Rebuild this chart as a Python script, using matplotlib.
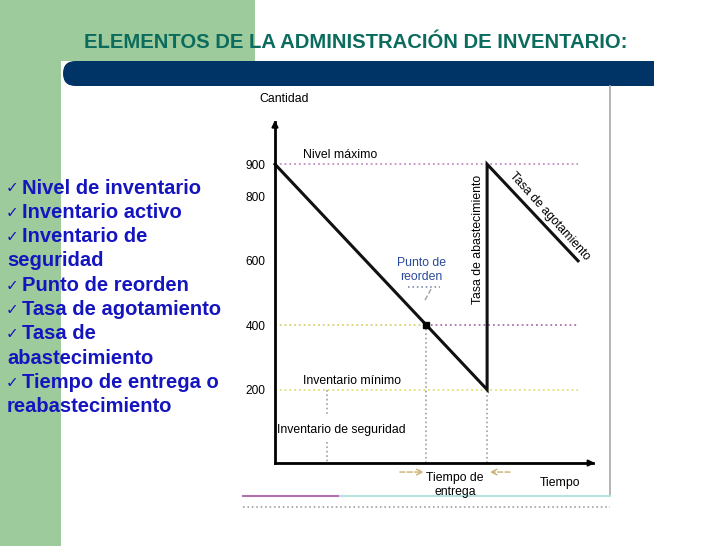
import matplotlib
matplotlib.use("Agg")
import matplotlib.pyplot as plt
from matplotlib.patches import Rectangle, FancyBboxPatch

# datos del grafico
t_nivel = [0, 7, 7, 10]
q_nivel = [900, 200, 900, 600]
y_ticks = [200, 400, 600, 800, 900]
nivel_maximo = 900
punto_reorden = 400
inv_minimo = 200
t_reorden = 5
t_llegada = 7
t_seguridad = 1.72
t_fin_lineas = 10

titulo = "ELEMENTOS DE LA ADMINISTRACIÓN DE INVENTARIO:"
items = [
    (True, "Nivel de inventario"),
    (True, "Inventario activo"),
    (True, "Inventario de"),
    (False, "seguridad"),
    (True, "Punto de reorden"),
    (True, "Tasa de agotamiento"),
    (True, "Tasa de"),
    (False, "abastecimiento"),
    (True, "Tiempo de entrega o"),
    (False, "reabastecimiento"),
]

plt.rcParams['font.family'] = ['Liberation Sans', 'DejaVu Sans']

W, H = 728, 546
fig = plt.figure(figsize=(W / 100, H / 100), dpi=100)

# fondo de la diapositiva en pixeles
bg = fig.add_axes([0, 0, 1, 1])
bg.set_xlim(0, W)
bg.set_ylim(H, 0)
bg.axis('off')

verde = '#9dcb9b'
bg.add_patch(Rectangle((0, 0), 255, 61, color=verde, lw=0))
bg.add_patch(Rectangle((0, 0), 61, H, color=verde, lw=0))
azul = '#003366'
bg.add_patch(FancyBboxPatch((63, 61), 140, 25, boxstyle="round,pad=0,rounding_size=12.5",
                            color=azul, lw=0))
bg.add_patch(Rectangle((150, 61), 504, 25, color=azul, lw=0))

bg.text(356, 42, titulo, ha='center', va='center', fontsize=14.6, fontweight='bold',
        color='#0b6b5d')

y0 = 188
azul_lista = '#1515c0'
for i, (check, txt) in enumerate(items):
    y = y0 + i * 24.3
    if check:
        bg.text(6, y, "\u2713", ha='left', va='center', fontsize=11,
                color=azul_lista, family='DejaVu Sans')
        bg.text(22, y, txt, ha='left', va='center', fontsize=14.5, fontweight='bold',
                color=azul_lista)
    else:
        bg.text(7, y, txt, ha='left', va='center', fontsize=14.5, fontweight='bold',
                color=azul_lista)

# marco de la imagen
bg.plot([610, 610], [86, 496], color='#a8a8a8', lw=1.2)
bg.plot([243, 340], [496, 496], color='#b070b0', lw=1.5)
bg.plot([340, 610], [496, 496], color='#b8e2e2', lw=1.5)
bg.plot([243, 610], [507, 507], color='#a0a0a0', lw=1.2, ls=':')

# grafico de inventario
ax = fig.add_axes([0.3361, 0.080, 0.4995, 0.7667])
ax.set_xlim(-1, 11)
ax.set_ylim(-150, 1150)
ax.patch.set_alpha(0)
for s in ['top', 'right']:
    ax.spines[s].set_visible(False)
ax.spines['left'].set_position(('data', 0))
ax.spines['left'].set_bounds(-28, 1030)
ax.spines['left'].set_linewidth(2)
ax.spines['bottom'].set_position(('data', -28))
ax.spines['bottom'].set_bounds(0, 10.5)
ax.spines['bottom'].set_linewidth(2)
ax.set_xticks([])
ax.set_yticks(y_ticks)
ax.set_yticklabels([str(v) for v in y_ticks])
ax.tick_params(axis='y', length=0, pad=7, labelsize=8.6)

ax.annotate('', xy=(0, 1045), xytext=(0, 1010),
            arrowprops=dict(arrowstyle='-|>', color='k', lw=1.5, mutation_scale=9))
ax.annotate('', xy=(10.65, -28), xytext=(10.3, -28),
            arrowprops=dict(arrowstyle='-|>', color='k', lw=1.5, mutation_scale=9))

# lineas de referencia punteadas
ax.plot([0, t_fin_lineas], [nivel_maximo] * 2, ls=':', color='#c58fc5', lw=1.3)
ax.plot([0, t_reorden], [punto_reorden] * 2, ls=':', color='#d8d070', lw=1.3)
ax.plot([t_reorden, t_fin_lineas], [punto_reorden] * 2, ls=':', color='#b070b0', lw=1.3)
ax.plot([0, t_fin_lineas], [inv_minimo] * 2, ls=':', color='#e0e070', lw=1.3)
ax.plot([t_reorden, t_reorden], [-28, punto_reorden], ls=':', color='#a0a0a0', lw=1.2)
ax.plot([t_llegada, t_llegada], [-28, inv_minimo], ls=':', color='#a0a0a0', lw=1.2)
ax.plot([t_seguridad, t_seguridad], [inv_minimo, 121], ls=':', color='#a0a0a0', lw=1.2)
ax.plot([t_seguridad, t_seguridad], [37, -28], ls=':', color='#a0a0a0', lw=1.2)

# nivel de inventario
ax.plot(t_nivel, q_nivel, color='#111111', lw=2.2, solid_joinstyle='miter')
ax.plot([t_reorden], [punto_reorden], marker='s', color='k', ms=5)

# textos
fs = 8.8
ax.text(-0.5, 1102, "Cantidad", ha='left', va='center', fontsize=fs)
ax.text(2.15, 928, "Nivel máximo", ha='center', va='center', fontsize=fs)
ax.text(2.54, 227, "Inventario mínimo", ha='center', va='center', fontsize=fs)
ax.text(2.18, 75, "Inventario de seguridad", ha='center', va='center', fontsize=fs)
ax.text(4.82, 571, "Punto de\nreorden", ha='center', va='center', fontsize=fs,
        color='#2a4a9a', linespacing=1.2)
ax.plot([4.39, 5.45], [520, 520], ls=':', color='#8090b0', lw=1.2)
ax.plot([4.95, 5.15], [478, 512], ls='--', color='#a0a0a0', lw=1)
ax.text(6.7, 665, "Tasa de abastecimiento", ha='center', va='center', fontsize=fs,
        rotation=90)
ax.text(9.05, 738, "Tasa de agotamiento", ha='center', va='center', fontsize=fs,
        rotation=-48, rotation_mode='anchor')
ax.text(5.94, -96, "Tiempo de\nentrega", ha='center', va='center', fontsize=fs,
        linespacing=1.3)
ax.text(9.4, -90, "Tiempo", ha='center', va='center', fontsize=fs)
ax.annotate('', xy=(t_reorden, -56), xytext=(4.03, -56),
            arrowprops=dict(arrowstyle='->', color='#c8b070', lw=1, ls='--'))
ax.annotate('', xy=(t_llegada, -56), xytext=(7.85, -56),
            arrowprops=dict(arrowstyle='->', color='#c8b070', lw=1, ls='--'))

fig.savefig("out.png", dpi=100)
